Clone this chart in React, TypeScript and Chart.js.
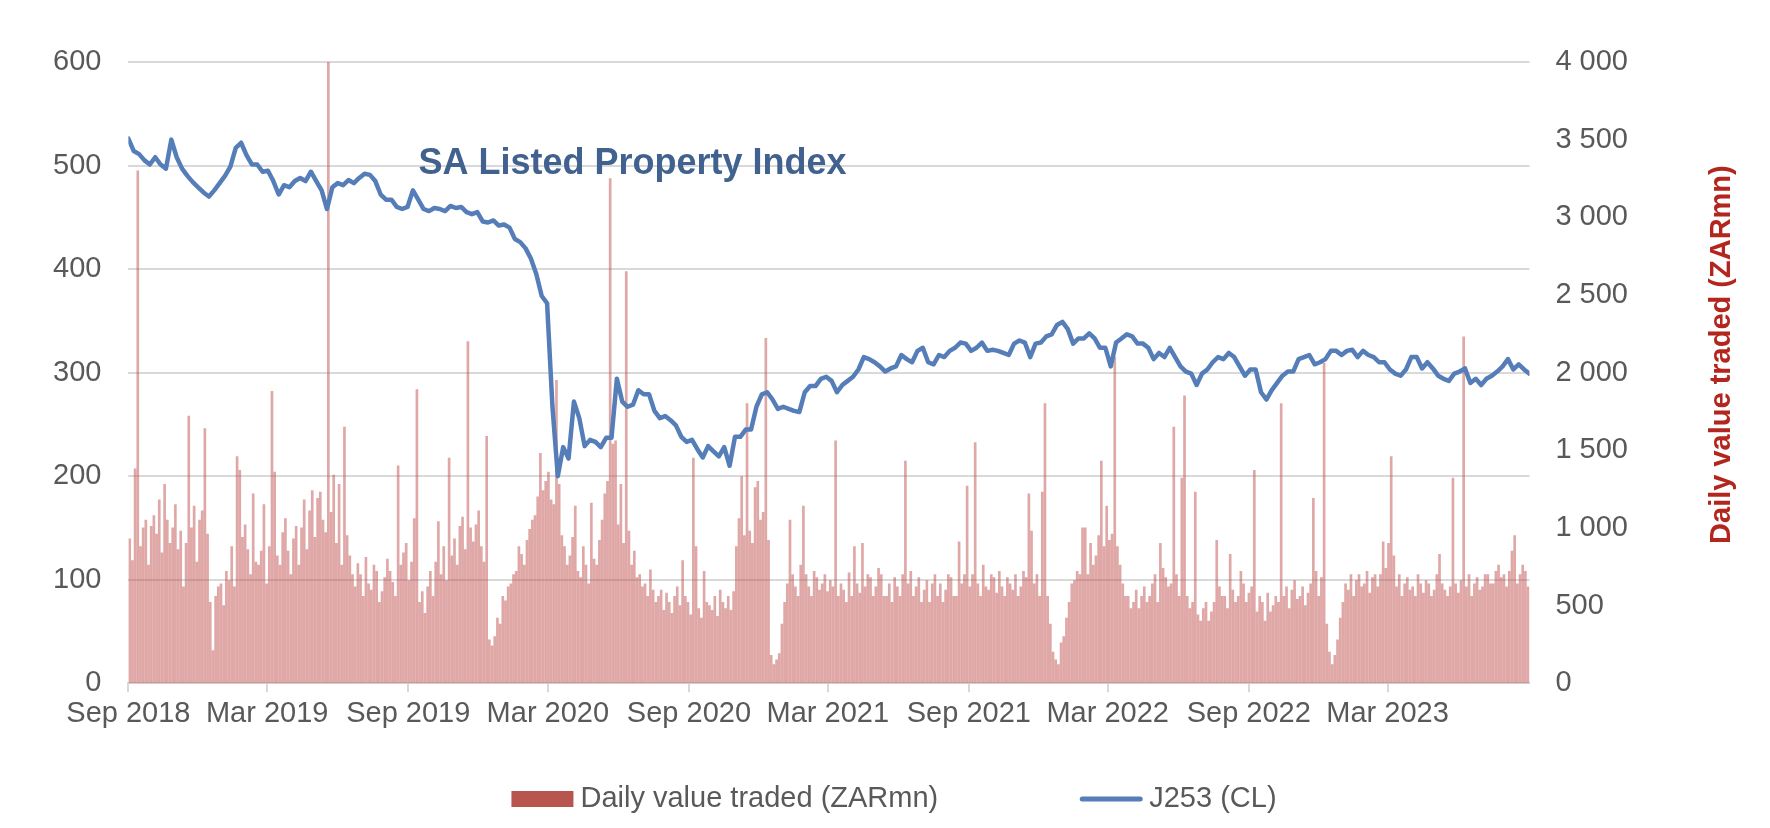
import { useEffect, useRef } from 'react';
import { Chart, registerables } from 'chart.js';

Chart.register(...registerables);

const FONT = '"Liberation Sans", Arial, Helvetica, sans-serif';

// x axis runs in days from 1 Sep 2018
const SPAN_DAYS = 1827;
const tickDays = [0, 181, 365, 547, 731, 912, 1096, 1277, 1461, 1642];
const tickLabels = ['Sep 2018', 'Mar 2019', 'Sep 2019', 'Mar 2020', 'Sep 2020', 'Mar 2021', 'Sep 2021', 'Mar 2022', 'Sep 2022', 'Mar 2023'];

const chartTitle = 'SA Listed Property Index';
const tradedLabel = 'Daily value traded (ZARmn)';
const indexLabel = 'J253 (CL)';

// J253 closing level, weekly
const j253_2018_19 = [526, 514, 511, 505, 501, 508, 501, 497, 525, 508, 497, 490, 484, 479, 474, 470, 476, 483, 490, 499, 517, 522, 510, 501, 501, 494, 495, 485, 472, 481, 479, 485, 488, 485, 494, 485, 476, 458, 479, 483, 481, 486, 483, 488, 492, 491, 485, 472, 467, 467, 460, 458];
const j253_2019_20 = [460, 476, 467, 458, 456, 459, 458, 456, 461, 459, 460, 455, 453, 455, 446, 445, 447, 442, 443, 440, 429, 426, 420, 410, 395, 374, 367, 267, 200, 228, 217, 272, 256, 229, 235, 233, 228, 237, 237, 294, 272, 267, 269, 283, 279, 279, 263, 256, 258, 254, 249, 238];
const j253_2020_21 = [233, 235, 226, 218, 229, 224, 219, 228, 210, 238, 238, 245, 245, 267, 279, 281, 274, 265, 267, 265, 263, 262, 281, 287, 287, 294, 296, 292, 281, 288, 292, 296, 303, 315, 313, 310, 306, 301, 304, 306, 317, 313, 310, 321, 324, 310, 308, 317, 315, 321, 324, 329];
const j253_2021_22 = [328, 321, 324, 329, 321, 322, 321, 319, 317, 328, 331, 329, 315, 328, 329, 335, 337, 346, 349, 342, 328, 333, 333, 338, 333, 324, 324, 306, 329, 333, 337, 335, 328, 328, 324, 313, 319, 315, 324, 315, 306, 301, 299, 288, 299, 303, 310, 315, 313, 319, 315, 306];
const j253_2022_23 = [297, 303, 303, 281, 274, 283, 290, 297, 301, 301, 313, 315, 317, 308, 310, 313, 321, 321, 317, 321, 322, 315, 321, 317, 315, 310, 310, 303, 299, 297, 303, 315, 315, 304, 310, 304, 297, 294, 292, 299, 301, 304, 290, 294, 288, 294, 297, 301, 306, 313, 303, 308, 303, 299];

// Value traded, ZARmn, two readings per week
const traded2018_19 = [
  930, 790, 1380, 3300, 880, 1000, 1050, 760, 1010, 1080, 960, 1180, 840, 1280, 1050, 900, 1000, 1150, 860, 980,
  620, 900, 1720, 1000, 1140, 780, 1050, 1110, 1640, 960, 520, 210, 560, 620, 640, 500, 720, 660, 880, 620,
  1460, 1370, 940, 1020, 860, 700, 1220, 780, 760, 850, 1150, 640, 880, 1880, 1360, 820, 760, 970, 1060, 850,
  700, 930, 1010, 760, 1000, 1180, 860, 1110, 1240, 940, 1190, 1230, 1050, 970, 4000, 1100, 1340, 900, 1280, 760,
  1650, 950, 820, 700, 620, 770, 700, 560, 810, 640, 600, 760, 720, 520, 590, 680, 800, 720, 650, 560,
  1400, 760, 840, 900,
];
const traded2019_20 = [
  660, 780, 1060, 1890, 520, 590, 450, 620, 720, 560, 780, 1040, 700, 880, 660, 1450, 820, 930, 760, 1010,
  1070, 860, 2200, 1000, 910, 1020, 1110, 880, 780, 1590, 280, 240, 300, 420, 380, 560, 530, 620, 640, 700,
  720, 880, 830, 760, 920, 990, 1050, 1080, 1200, 1480, 1240, 1300, 1360, 1180, 1150, 1950, 1280, 950, 880, 760,
  820, 940, 1140, 720, 680, 880, 760, 640, 1160, 800, 760, 920, 1050, 1220, 1300, 3250, 1540, 1560, 1020, 1280,
  900, 2650, 980, 760, 850, 680, 700, 620, 640, 560, 730, 600, 520, 560, 600, 470, 580, 520, 450, 560,
  620, 500, 790, 560,
];
const traded2020_21 = [
  520, 440, 1450, 880, 480, 420, 720, 520, 500, 470, 560, 430, 600, 520, 480, 560, 470, 590, 880, 1060,
  1330, 950, 1800, 980, 900, 1260, 1300, 1050, 1100, 2220, 920, 180, 120, 150, 190, 380, 520, 640, 1050, 700,
  620, 560, 760, 1140, 700, 620, 560, 720, 680, 600, 640, 700, 590, 660, 620, 1560, 560, 640, 600, 520,
  710, 560, 880, 640, 580, 900, 620, 700, 680, 560, 620, 740, 700, 560, 560, 640, 520, 680, 620, 560,
  700, 1430, 640, 720, 560, 620, 680, 520, 600, 660, 520, 640, 700, 560, 640, 520, 600, 700, 680, 560,
  560, 910, 640, 700,
];
const traded2021_22 = [
  1270, 620, 700, 1550, 640, 560, 760, 620, 600, 700, 680, 580, 720, 620, 560, 680, 640, 600, 700, 560,
  620, 720, 680, 1220, 980, 640, 700, 560, 1230, 1800, 560, 380, 200, 150, 120, 260, 300, 420, 520, 640,
  660, 720, 700, 1000, 1000, 700, 900, 760, 820, 950, 1430, 880, 1140, 920, 960, 2100, 880, 760, 640, 560,
  560, 480, 520, 600, 480, 560, 620, 520, 560, 640, 700, 520, 900, 740, 680, 620, 640, 1650, 700, 560,
  1320, 1850, 560, 480, 520, 1230, 440, 400, 480, 520, 400, 460, 520, 920, 620, 560, 560, 480, 830, 600,
  520, 560, 720, 640,
];
const traded2022_23 = [
  520, 580, 620, 1370, 460, 560, 520, 400, 580, 460, 500, 560, 520, 1800, 560, 620, 480, 600, 660, 540,
  560, 620, 500, 580, 640, 1190, 720, 560, 680, 2060, 380, 200, 120, 180, 280, 420, 520, 640, 600, 700,
  560, 660, 700, 620, 640, 720, 580, 680, 700, 620, 700, 910, 740, 900, 1460, 820, 620, 700, 560, 640,
  680, 600, 620, 560, 700, 640, 580, 660, 640, 560, 600, 700, 830, 640, 600, 560, 620, 1320, 640, 580,
  660, 2230, 620, 700, 560, 640, 680, 600, 620, 700, 700, 640, 640, 720, 760, 680, 700, 620, 720, 850,
  950, 640, 700, 760, 720, 620,
];

const INDEX_COLOR = '#557eb9';
const BAR_COLOR = 'rgba(192, 80, 77, 0.5)';
const BAR_KEY_COLOR = '#b9554f';
const TITLE_COLOR = '#41618f';
const AXIS_TITLE_COLOR = '#b3261e';
const LABEL_COLOR = '#595959';
const GRID_COLOR = '#d9d9d9';

const formatThousands = (v: number) =>
  v >= 1000 ? `${Math.floor(v / 1000)} ${String(v % 1000).padStart(3, '0')}` : String(v);

// Draws the heading, the rotated right-axis title and the legend row
const decorations = {
  id: 'decorations',
  afterDraw(chart: any) {
    const { ctx, chartArea } = chart;
    ctx.save();

    ctx.font = `bold 36px ${FONT}`;
    ctx.fillStyle = TITLE_COLOR;
    ctx.textAlign = 'left';
    ctx.textBaseline = 'alphabetic';
    ctx.fillText(chartTitle, chartArea.left + 290, chartArea.top + 112);

    ctx.save();
    ctx.font = `bold 29px ${FONT}`;
    ctx.fillStyle = AXIS_TITLE_COLOR;
    ctx.textAlign = 'center';
    ctx.translate(chartArea.right + 201, (chartArea.top + chartArea.bottom) / 2 - 18);
    ctx.rotate(-Math.PI / 2);
    ctx.fillText(tradedLabel, 0, 0);
    ctx.restore();

    ctx.font = `29px ${FONT}`;
    ctx.textBaseline = 'middle';
    ctx.textAlign = 'left';
    const symW = 62;
    const gapText = 7;
    const gapItems = 142;
    const items = chart.data.datasets.map((ds: any) => ({ label: ds.label, type: ds.type }));
    const widths = items.map((it: any) => symW + gapText + ctx.measureText(it.label).width);
    const total = widths.reduce((a: number, b: number) => a + b, 0) + gapItems * (items.length - 1);
    let x = (chart.width - total) / 2 + 9;
    const y = chart.height - 29;
    items.forEach((it: any, k: number) => {
      if (it.type === 'line') {
        ctx.strokeStyle = INDEX_COLOR;
        ctx.lineWidth = 5;
        ctx.lineCap = 'round';
        ctx.beginPath();
        ctx.moveTo(x + 2, y);
        ctx.lineTo(x + symW - 2, y);
        ctx.stroke();
      } else {
        ctx.fillStyle = BAR_KEY_COLOR;
        ctx.fillRect(x, y - 8, symW, 16);
      }
      ctx.fillStyle = LABEL_COLOR;
      ctx.fillText(it.label, x + symW + gapText, y);
      x += widths[k] + gapItems;
    });
    ctx.restore();
  },
};

export default function App() {
  const canvasRef = useRef<HTMLCanvasElement | null>(null);

  useEffect(() => {
    if (!canvasRef.current) return;
    const weeklyIndex = [...j253_2018_19, ...j253_2019_20, ...j253_2020_21, ...j253_2021_22, ...j253_2022_23];
    const traded = [...traded2018_19, ...traded2019_20, ...traded2020_21, ...traded2021_22, ...traded2022_23];

    const tickFont = { family: FONT, size: 29 };

    const chart = new Chart(canvasRef.current, {
      type: 'bar',
      data: {
        datasets: [
          {
            type: 'bar',
            label: tradedLabel,
            data: traded.map((v, j) => ({ x: j * 3.5 + 1.75, y: v })),
            backgroundColor: BAR_COLOR,
            borderWidth: 0,
            barThickness: 2,
            yAxisID: 'yRight',
            order: 2,
          },
          {
            type: 'line',
            label: indexLabel,
            data: weeklyIndex.map((v, i) => ({ x: i * 7, y: v })),
            borderColor: INDEX_COLOR,
            backgroundColor: INDEX_COLOR,
            borderWidth: 4.5,
            pointRadius: 0,
            tension: 0,
            borderJoinStyle: 'round',
            borderCapStyle: 'round',
            yAxisID: 'yLeft',
            order: 1,
          },
        ] as any,
      },
      options: {
        responsive: false,
        animation: false,
        devicePixelRatio: 1,
        layout: { padding: { left: 26, right: 116, top: 62, bottom: 93 } },
        plugins: {
          legend: { display: false },
          tooltip: { enabled: false },
          title: { display: false },
        },
        scales: {
          x: {
            type: 'linear',
            min: 0,
            max: SPAN_DAYS,
            offset: false,
            afterBuildTicks: (scale: any) => {
              scale.ticks = tickDays.map((value) => ({ value }));
            },
            ticks: {
              autoSkip: false,
              maxRotation: 0,
              minRotation: 0,
              padding: 4,
              color: LABEL_COLOR,
              font: tickFont,
              callback: (value: any) => tickLabels[tickDays.indexOf(Number(value))] ?? '',
            },
            grid: {
              drawOnChartArea: false,
              drawTicks: true,
              tickLength: 9,
              color: GRID_COLOR,
              lineWidth: 2,
              offset: false,
            },
            border: { display: true, color: GRID_COLOR, width: 2 },
          },
          yLeft: {
            type: 'linear',
            position: 'left',
            min: 0,
            max: 600,
            ticks: { stepSize: 100, padding: 27, color: LABEL_COLOR, font: tickFont },
            grid: { color: GRID_COLOR, lineWidth: 2, drawTicks: false },
            border: { display: false },
          },
          yRight: {
            type: 'linear',
            position: 'right',
            min: 0,
            max: 4000,
            ticks: {
              stepSize: 500,
              padding: 26,
              color: LABEL_COLOR,
              font: tickFont,
              callback: (value: any) => formatThousands(Number(value)),
            },
            grid: { display: false, drawTicks: false },
            border: { display: false },
          },
        } as any,
      },
      plugins: [decorations],
    });

    return () => chart.destroy();
  }, []);

  return (
    <div style={{ position: 'fixed', left: 0, top: 0, width: 1770, height: 828, background: '#ffffff' }}>
      <canvas ref={canvasRef} width={1770} height={828} />
    </div>
  );
}
